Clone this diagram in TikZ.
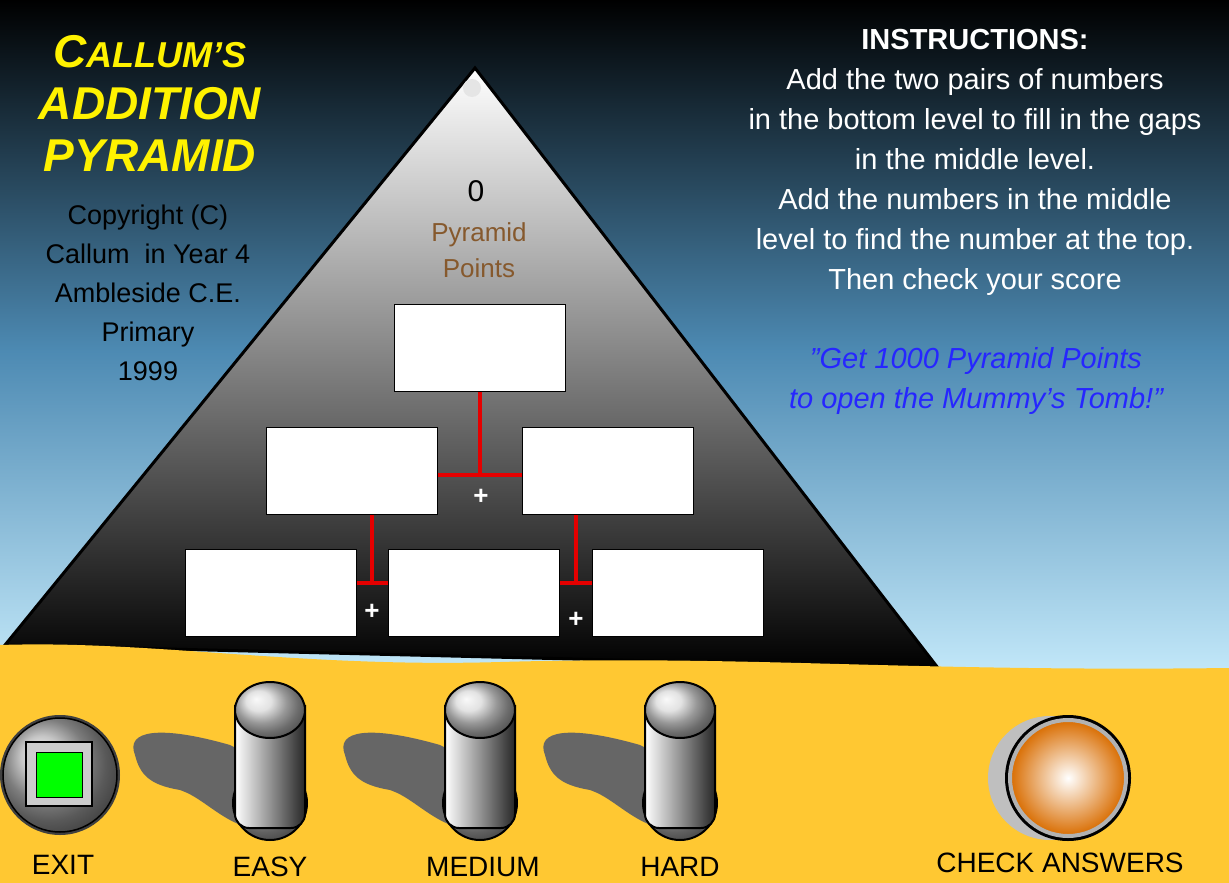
\documentclass[tikz,border=0pt]{standalone}
\usepackage{fontspec}
\setmainfont{Liberation Sans}
\begin{document}
\begin{tikzpicture}[x=1pt,y=-1pt,
  box/.style={draw=black,fill=white,minimum width=171pt,minimum height=87pt,inner sep=0pt,line width=0.6pt},
  link/.style={draw=red!90!black,line width=3.5pt},
  plus/.style={text=white,font=\fontsize{26}{26}\selectfont\bfseries},
  info/.style={text=white,font=\fontsize{29}{40}\selectfont,align=center},
  lab/.style={font=\fontsize{28}{28}\selectfont}]
\useasboundingbox (0,0) rectangle (1229,883);
\definecolor{sand}{RGB}{255,200,50}
% sky
\shade[top color=black,bottom color=blue!30!cyan!20!white,middle color=blue!40!cyan!40!gray] (0,0) rectangle (1229,700);
% pyramid
\shade[top color=white,bottom color=black,draw=black,line width=3pt] (475,68) -- (938,668) -- (5,645) -- cycle;
\fill[white!80!gray] (472,88) circle (9);
% sand
\fill[sand] (0,645) .. controls (150,640) and (300,668) .. (500,662) .. controls (750,655) and (900,672) .. (1229,668) -- (1229,883) -- (0,883) -- cycle;
% title
\node[text=yellow,font=\fontsize{46}{52}\selectfont\bfseries\itshape,align=center] (title) at (150,103) {C\fontsize{36}{52}\selectfont ALLUM'S\\ADDITION\\PYRAMID};
\node[font=\fontsize{27}{39}\selectfont,align=center] (copy) at (148,293) {Copyright (C)\\Callum \ in Year 4\\Ambleside C.E.\\Primary\\1999};
\node[font=\fontsize{30}{30}\selectfont] (score) at (476,191) {0};
\node[text=brown!70!black,font=\fontsize{26}{36}\selectfont,align=center] (pp) at (479,250) {Pyramid\\Points};
% instructions
\node[info] (instr) at (975,162) {\textbf{INSTRUCTIONS:}\\Add the two pairs of numbers\\in the bottom level to fill in the gaps\\in the middle level.\\Add the numbers in the middle\\level to find the number at the top.\\Then check your score};
\node[text=blue!85!white,font=\fontsize{29}{40}\selectfont\itshape,align=center] (quote) at (976,381) {"Get 1000 Pyramid Points\\to open the Mummy's Tomb!"};
% boxes
\node[box] (t) at (480,348) {};
\node[box] (m1) at (352,471) {};
\node[box] (m2) at (608,471) {};
\node[box] (b1) at (271,593) {};
\node[box] (b2) at (474,593) {};
\node[box] (b3) at (678,593) {};
\coordinate (j1) at (480,475);
\coordinate (j2) at (372,583);
\coordinate (j3) at (576,583);
\draw[link] (t.south) -- (j1);
\draw[link] (m1.east|-j1) -- (m2.west|-j1);
\draw[link] (m1.south-|j2) -- (j2);
\draw[link] (b1.east|-j2) -- (b2.west|-j2);
\draw[link] (m2.south-|j3) -- (j3);
\draw[link] (b2.east|-j3) -- (b3.west|-j3);
\node[plus] (p1) at (481,497) {+};
\node[plus] (p2) at (372,612) {+};
\node[plus] (p3) at (576,620) {+};
% exit button
\fill[gray!50!black] (60,775) circle (60);
\shade[ball color=gray!60,draw=black,line width=1.5pt] (60,775) circle (57);
\draw[fill=gray!40,line width=1.5pt] (26,742) rectangle (92,806);
\draw[fill=green,line width=1pt] (36,752) rectangle (82,797);
% switches
\foreach \x in {270,480,680}{
  \fill[gray!40!black!75] (\x-135,755) .. controls (\x-145,730) and (\x-110,725) .. (\x-40,745) -- (\x+10,770) -- (\x+10,830) .. controls (\x-40,835) and (\x-60,800) .. (\x-90,790) .. controls (\x-120,785) and (\x-130,775) .. cycle;
  \shade[ball color=gray!50,draw=black,line width=2pt] (\x,803) circle (37);
  \shade[left color=white,right color=black!85,draw=black,line width=2pt,rounded corners=14pt] (\x-35,705) -- (\x-35,828) -- (\x+35,828) -- (\x+35,705);
  \shade[ball color=gray!30,draw=black,line width=2pt] (\x,710) ellipse (35 and 28);
}
% check button
\fill[gray!50] (1050,778) circle (62);
\fill[black] (1068,778) circle (63);
\shade[inner color=white,outer color=orange!85!black,draw=gray!60,line width=4pt] (1068,778) circle (58);
% labels
\node[lab] (exit) at (63,865) {EXIT};
\node[lab] (easy) at (270,867) {EASY};
\node[lab] (med) at (483,867) {MEDIUM};
\node[lab] (hard) at (680,867) {HARD};
\node[lab] (chk) at (1060,863) {CHECK ANSWERS};
\end{tikzpicture}
\end{document}
